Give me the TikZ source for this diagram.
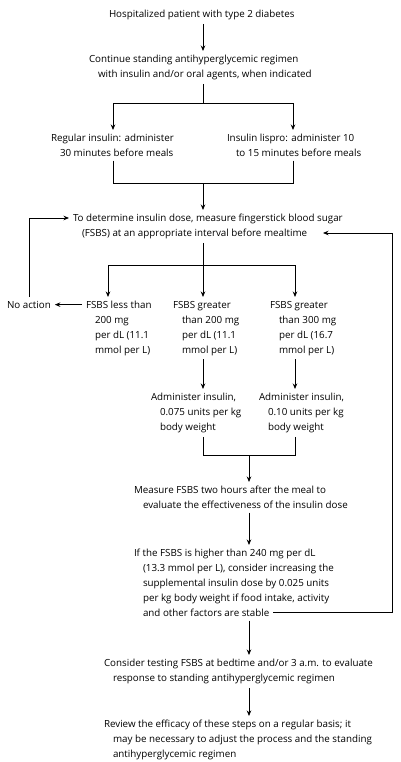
\documentclass[tikz,border=0pt]{standalone}
\usepackage{fontspec}
\setmainfont{Open Sans}
\usetikzlibrary{arrows.meta}
\newcommand{\hi}{\hspace*{9pt}}
\tikzset{
    txt/.style={anchor=north west, align=left, inner sep=0pt, outer sep=4pt,
        font=\fontsize{9.8}{15}\selectfont},
    arr/.style={-{Stealth[length=5.5pt,width=4.5pt]}},
}

\begin{document}
\begin{tikzpicture}[x=1pt,y=-1pt,line width=0.8pt]
    \useasboundingbox (0,0) rectangle (400,762);
    \coordinate (mid) at (203,0);
    \coordinate (low) at (249,0);
    \coordinate (b1) at (203,103);
    \coordinate (b1l) at (113,103);
    \coordinate (b1r) at (293,103);
    \coordinate (m1) at (203,183);
    \coordinate (b2) at (203,265);
    \coordinate (b2l) at (108,265);
    \coordinate (b2r) at (295,265);
    \coordinate (m2) at (249,455);
    \coordinate (lp) at (0,218);
    \coordinate (fbs) at (273,612);
    \coordinate (fbe) at (323,233);
    \coordinate (rx) at (392,0);

    \node[txt] (start) at (105,6) {Hospitalized patient with type 2 diabetes};
    \node[txt] (regimen) at (85,51) {Continue standing antihyperglycemic regimen\\
        \hi with insulin and/or oral agents, when indicated};
    \node[txt] (regular) at (47,130) {Regular insulin: administer\\
        \hi 30 minutes before meals};
    \node[txt] (lispro) at (223,130) {Insulin lispro: administer 10\\
        \hi to 15 minutes before meals};
    \node[txt] (dose) at (69,210) {To determine insulin dose, measure fingerstick blood sugar\\
        \hi (FSBS) at an appropriate interval before mealtime};
    \node[txt] (noact) at (3,297) {No action};
    \node[txt] (low200) at (82,297) {FSBS less than\\ \hi 200 mg\\ \hi per dL (11.1\\ \hi mmol per L)};
    \node[txt] (gt200) at (169,297) {FSBS greater\\ \hi than 200 mg\\ \hi per dL (11.1\\ \hi mmol per L)};
    \node[txt] (gt300) at (266,297) {FSBS greater\\ \hi than 300 mg\\ \hi per dL (16.7\\ \hi mmol per L)};
    \node[txt] (adm075) at (147,389) {Administer insulin,\\ \hi 0.075 units per kg\\ \hi body weight};
    \node[txt] (adm010) at (255,389) {Administer insulin,\\ \hi 0.10 units per kg\\ \hi body weight};
    \node[txt] (after) at (130,482) {Measure FSBS two hours after the meal to\\
        \hi evaluate the effectiveness of the insulin dose};
    \node[txt] (higher) at (130,545) {If the FSBS is higher than 240 mg per dL\\
        \hi (13.3 mmol per L), consider increasing the\\
        \hi supplemental insulin dose by 0.025 units\\
        \hi per kg body weight if food intake, activity\\
        \hi and other factors are stable};
    \node[txt] (bedtime) at (100,655) {Consider testing FSBS at bedtime and/or 3 a.m. to evaluate\\
        \hi response to standing antihyperglycemic regimen};
    \node[txt] (review) at (100,716) {Review the efficacy of these steps on a regular basis; it\\
        \hi may be necessary to adjust the process and the standing\\
        \hi antihyperglycemic regimen};

    \draw[arr] (start.south -| mid) -- (regimen.north -| mid);
    \draw (regimen.south -| b1) -- (b1);
    \draw[arr] (b1) -| (b1l |- regular.north);
    \draw[arr] (b1) -| (b1r |- lispro.north);
    \draw (regular.south -| b1l) |- (m1);
    \draw (lispro.south -| b1r) |- (m1);
    \draw[arr] (m1) -- (dose.north -| m1);
    \draw (dose.south -| b2) -- (b2);
    \draw[arr] (b2) -| (b2l |- low200.north);
    \draw[arr] (b2) -- (gt200.north -| b2);
    \draw[arr] (b2) -| (b2r |- gt300.north);
    \draw[arr] (noact.east -| low200.west) -- (noact.east);
    \draw[arr] (noact.north) |- (dose.west |- lp);
    \draw[arr] (gt200.south -| mid) -- (adm075.north -| mid);
    \draw[arr] (gt300.south -| b2r) -- (adm010.north -| b2r);
    \draw (adm075.south -| mid) |- (m2);
    \draw (adm010.south -| b2r) |- (m2);
    \draw[arr] (m2) -- (after.north -| m2);
    \draw[arr] (after.south -| low) -- (higher.north -| low);
    \draw[arr] (fbs) -| (rx |- fbe) -- (fbe);
    \draw[arr] (higher.south -| low) -- (bedtime.north -| low);
    \draw[arr] (bedtime.south -| low) -- (review.north -| low);
\end{tikzpicture}
\end{document}
